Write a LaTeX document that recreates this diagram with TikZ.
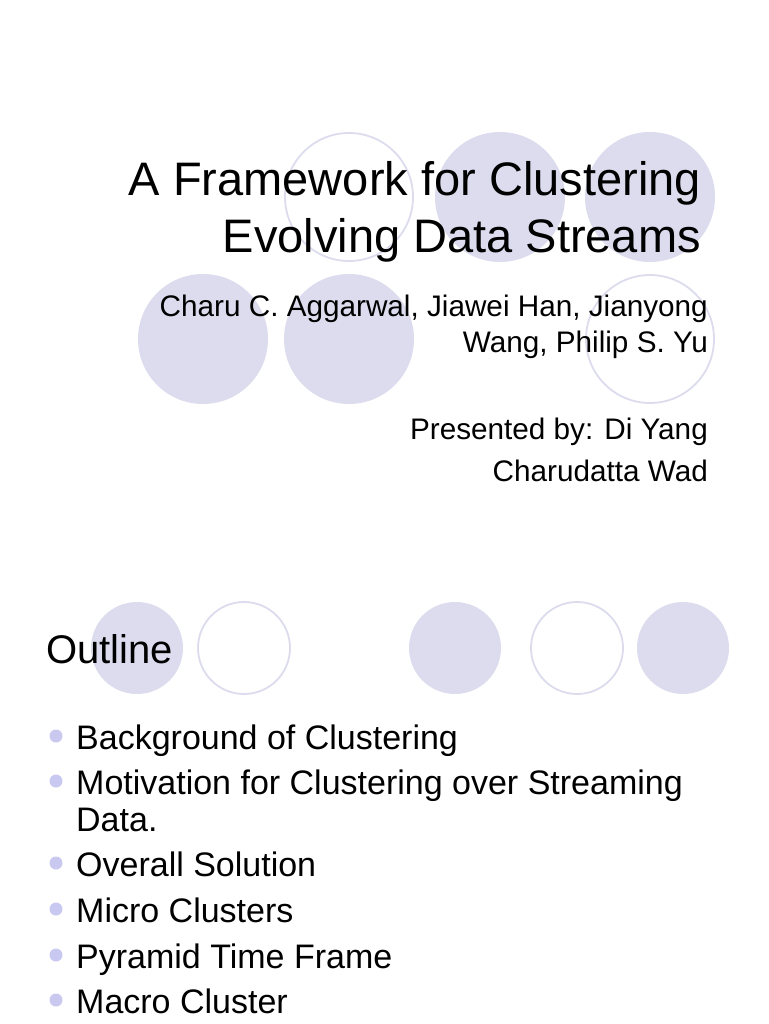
\documentclass[tikz,border=0pt]{standalone}
\usepackage{fontspec}
\setmainfont{Liberation Sans}
\definecolor{cfill}{HTML}{DCDCEE}
\definecolor{cline}{HTML}{DCDCEE}
\definecolor{cbul}{HTML}{C8C8F0}
\begin{document}
\begin{tikzpicture}[x=1pt,y=-1pt,
  fc/.style={fill=cfill,draw=none},
  oc/.style={draw=cline,line width=1.8pt,fill=white},
  tx/.style={inner sep=0pt,font=\fontsize{29.7}{34}\selectfont},
  bl/.style={inner sep=0pt,anchor=base west,font=\fontsize{34}{40}\selectfont},
  bu/.style={fill=cbul,circle,inner sep=0pt,minimum size=13pt}]
\useasboundingbox (0,0) rectangle (768,1024);
\fill[white] (0,0) rectangle (768,1024);
% slide 1 circles
\draw[oc] (349,197) circle (64);
\fill[fc] (500,197) circle (65);
\fill[fc] (650,197) circle (65);
\fill[fc] (203,339) circle (65);
\fill[fc] (349,339) circle (65);
\draw[oc] (650,339) circle (64);
\node[inner sep=0pt,anchor=base east,font=\fontsize{47}{54}\selectfont] (t1) at (701,196) {A Framework for Clustering};
\node[inner sep=0pt,anchor=base east,font=\fontsize{47}{54}\selectfont] (t2) at (701,252) {Evolving Data Streams};
\node[tx,anchor=base east] (a1) at (708,316) {Charu C. Aggarwal, Jiawei Han, Jianyong};
\node[tx,anchor=base east] (a2) at (708,352) {Wang, Philip S. Yu};
\node[tx,anchor=base east] (p1) at (708,439) {Presented by: Di Yang};
\node[tx,anchor=base east] (p2) at (708,481) {Charudatta Wad};
% slide 2 circles
\fill[fc] (137,648) circle (46);
\draw[oc] (244,648) circle (46);
\fill[fc] (455,648) circle (46);
\draw[oc] (577,648) circle (46);
\fill[fc] (683,648) circle (46);
\node[inner sep=0pt,anchor=base west,font=\fontsize{40}{46}\selectfont] (ol) at (46,663) {Outline};
\foreach \y/\t [count=\i] in {749/Background of Clustering,794/Motivation for Clustering over Streaming,876/Overall Solution,922/Micro Clusters,968/Pyramid Time Frame,1013/Macro Cluster}{
  \node[bu] (b\i) at (56,\y-13) {};
  \node[bl] (l\i) at (76,\y) {\t};
}
\node[bl] (l2b) at (76,831) {Data.};
\end{tikzpicture}
\end{document}
